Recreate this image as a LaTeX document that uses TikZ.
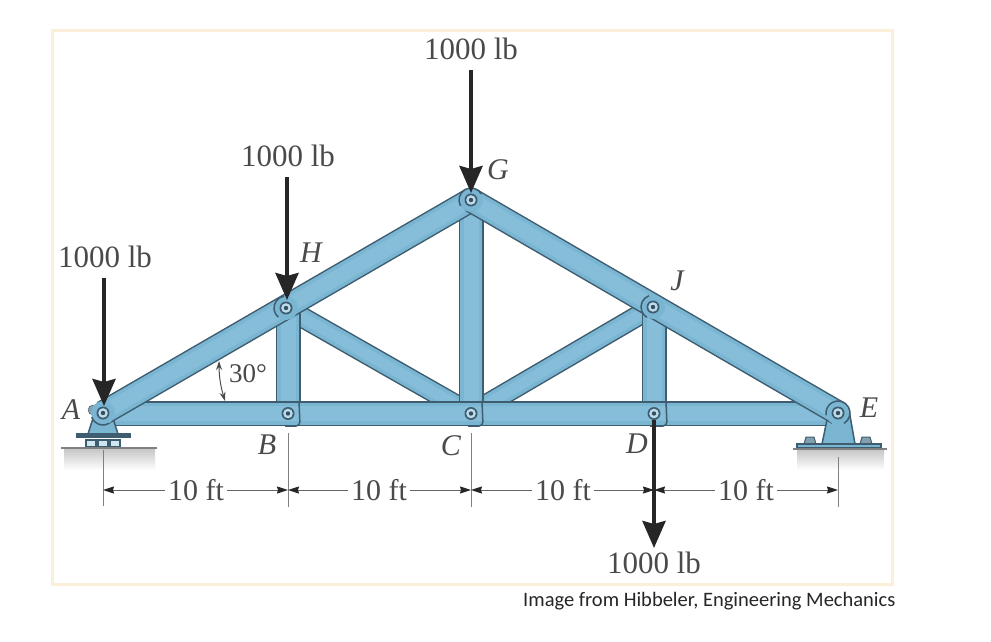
\documentclass[tikz,border=0pt]{standalone}
\usepackage{fontspec}
\setmainfont{Liberation Serif}
\newfontfamily\capfont{Carlito}
\usetikzlibrary{arrows.meta,calc}
\definecolor{edgeC}{HTML}{3F5D70}
\definecolor{midC}{HTML}{7AB5D2}
\definecolor{liteC}{HTML}{86BEDA}
\definecolor{inkC}{HTML}{262626}
\definecolor{txtC}{HTML}{4A4A4A}
\definecolor{frameC}{HTML}{FCEFD9}
\newcommand{\memb}[3]{%
  \draw[edgeC,line width=#3pt] (#1) -- (#2);
  \draw[midC,line width=#3pt-3pt] (#1) -- (#2);
  \draw[liteC,line width=#3pt-10pt] (#1) -- (#2);}
\newcommand{\pinn}[1]{%
  \fill[edgeC] (#1) circle (6.5pt);
  \fill[liteC!55!white] (#1) circle (4.8pt);
  \fill[edgeC!85!black] (#1) circle (2.2pt);}
\newcommand{\gusset}[3]{%
  \fill[midC] (#1) circle (12pt);
  \draw[edgeC,line width=1.5pt] (#1) ++(#2:12pt) arc (#2:#3:12pt);}
\tikzset{
  x=1pt,y=-1pt,
  load/.style={inkC,line width=4pt,-{Stealth[length=27pt,width=23pt,inset=3pt]}},
  loadtxt/.style={text=txtC,font=\fontsize{31}{33}\selectfont,inner sep=0pt},
  letter/.style={text=txtC,font=\fontsize{30}{32}\selectfont\itshape,inner sep=0pt},
  dimtxt/.style={text=txtC,font=\fontsize{30}{32}\selectfont,inner sep=0pt},
  dimline/.style={black!60,line width=1pt,-{Stealth[length=11pt,width=7pt,inset=1pt,color=black!85]}},
  extline/.style={black!50,line width=0.9pt},
  ground/.style={black!50,line width=1.5pt},
  plate/.style={fill=midC,draw=edgeC,line width=1.5pt}
}
\begin{document}
\begin{tikzpicture}
\useasboundingbox (0,0) rectangle (991,642);
\fill[white] (0,0) rectangle (991,642);
\draw[frameC,line width=3pt] (52,31) rectangle (892,584);
% joints
\coordinate (A) at (103,413);
\coordinate (B) at (288,413.5);
\coordinate (C) at (471,413.5);
\coordinate (D) at (654,413.5);
\coordinate (E) at (838,413);
\coordinate (G) at (471,200);
\coordinate (H) at (286,308);
\coordinate (J) at (653,307);
\coordinate (Hv) at (288,308);
\coordinate (Jv) at (654,307);
% ground shadows
\shade[top color=black!22,bottom color=white] (64,449) rectangle (155,470);
\shade[top color=black!22,bottom color=white] (797,450) rectangle (884,470);
% web members
\memb{H}{C}{21}
\memb{J}{C}{21}
\memb{B}{Hv}{25}
\memb{D}{Jv}{25}
\memb{C}{G}{25}
% bottom chord
\coordinate (chL) at (112,413.5);
\coordinate (chR) at (830,413.5);
\memb{chL}{chR}{25}
\draw[edgeC,line width=1.5pt,rounded corners=4pt] (299,401) -- (300,426) -- (285,426);
\draw[edgeC,line width=1.5pt,rounded corners=4pt] (482,401) -- (483,426) -- (468,426);
\draw[edgeC,line width=1.5pt,rounded corners=4pt] (666,401) -- (667,426) -- (650,426);
% supports
\draw[plate] (95,412) -- (88,434) -- (118,434) -- (111,412) -- cycle;
\draw[plate,fill=edgeC] (77,434) rectangle (130,437);
\foreach \q in {86,98,110}{\draw[edgeC,fill=liteC!40!white,line width=1.3pt] (\q,440) rectangle (\q+10,447);}
\draw[ground] (61,448) coordinate (g1) -- (157,448) coordinate (g2);
\draw[edgeC,fill=liteC!50!gray] (93,410) circle (5pt);
\draw[plate] (829,410) -- (822,444) -- (855,444) -- (849,410) -- cycle;
\draw[edgeC,fill=liteC!50!gray,line width=1pt] (804,444) -- (806,437) -- (814,437) -- (816,444) -- cycle;
\draw[edgeC,fill=liteC!50!gray,line width=1pt] (860,444) -- (862,437) -- (870,437) -- (872,444) -- cycle;
\draw[plate] (797,444) rectangle (881,448);
\draw[ground] (793,449) coordinate (g3) -- (887,449) coordinate (g4);
% top chords
\memb{A}{G}{25}
\memb{G}{E}{25}
\gusset{E}{-60}{190}
\gusset{A}{200}{300}
\gusset{H}{100}{230}
\gusset{J}{110}{240}
\gusset{G}{-150}{-330}
\pinn{A}\pinn{B}\pinn{C}\pinn{D}\pinn{E}\pinn{G}\pinn{H}\pinn{J}
% extension lines
\draw[extline] (103,450) coordinate (xa1) -- (103,506) coordinate (xa2);
\draw[extline] (288,433) coordinate (xb1) -- (288,507) coordinate (xb2);
\draw[extline] (471,433) coordinate (xc1) -- (471,507) coordinate (xc2);
\draw[extline] (838,457) coordinate (xe1) -- (838,507) coordinate (xe2);
% dimensions
\node[dimtxt] (d1) at (196,490) {10 ft};
\node[dimtxt] (d2) at (379,490) {10 ft};
\node[dimtxt] (d3) at (563,490) {10 ft};
\node[dimtxt] (d4) at (746,490) {10 ft};
\coordinate (p1l) at (103,490); \coordinate (p1r) at (288,490);
\coordinate (p2l) at (288,490); \coordinate (p2r) at (471,490);
\coordinate (p3l) at (471,490); \coordinate (p3r) at (654,490);
\coordinate (p4l) at (654,490); \coordinate (p4r) at (838,490);
\draw[dimline] (d1.west) ++(-3,0) -- (p1l);
\draw[dimline] (d1.east) ++(3,0) -- (p1r);
\draw[dimline] (d2.west) ++(-3,0) -- (p2l);
\draw[dimline] (d2.east) ++(3,0) -- (p2r);
\draw[dimline] (d3.west) ++(-3,0) -- (p3l);
\draw[dimline] (d3.east) ++(3,0) -- (p3r);
\draw[dimline] (d4.west) ++(-3,0) -- (p4l);
\draw[dimline] (d4.east) ++(3,0) -- (p4r);
% loads
\coordinate (la) at (104,278); \coordinate (lat) at (104,406);
\coordinate (lh) at (287,177); \coordinate (lht) at (287,300);
\coordinate (lg) at (471,70);  \coordinate (lgt) at (471,193);
\coordinate (ld) at (654,420); \coordinate (ldt) at (654,548);
\draw[load] (la) -- (lat);
\draw[load] (lh) -- (lht);
\draw[load] (lg) -- (lgt);
\draw[load] (ld) -- (ldt);
\node[loadtxt] (t1) at (105,257) {1000 lb};
\node[loadtxt] (t2) at (288,156) {1000 lb};
\node[loadtxt] (t3) at (471,49) {1000 lb};
\node[loadtxt] (t4) at (654,563) {1000 lb};
% angle
\coordinate (an1) at (219,361); \coordinate (an2) at (225,401);
\draw[black!70,line width=1pt,{Stealth[length=9pt,width=6pt]}-{Stealth[length=9pt,width=6pt]}] (an1) to[bend right=8] (an2);
\node[dimtxt,font=\fontsize{27}{30}\selectfont] (ang) at (248,374) {30°};
% letters
\node[letter] (nA) at (71,410) {A};
\node[letter] (nB) at (267,445) {B};
\node[letter] (nC) at (451,446) {C};
\node[letter] (nD) at (637,444) {D};
\node[letter] (nE) at (869,408) {E};
\node[letter] (nG) at (498,170) {G};
\node[letter] (nH) at (311,253) {H};
\node[letter] (nJ) at (677,281) {J};
\node[inner sep=0pt,anchor=west,text=black!85,font=\capfont\fontsize{20.5}{22}\selectfont] (cap) at (523,601) {Image from Hibbeler, Engineering Mechanics};
\end{tikzpicture}
\end{document}
